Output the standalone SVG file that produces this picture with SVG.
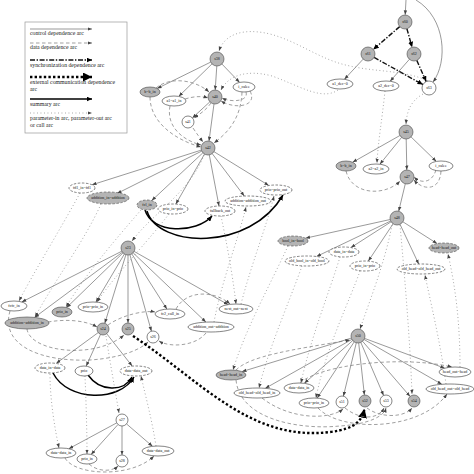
<svg xmlns="http://www.w3.org/2000/svg" width="474" height="474" viewBox="0 0 474 474">
<defs>
<style>
.ctl{fill:none;stroke:#555;stroke-width:0.6;marker-end:url(#ag)}
.dat{fill:none;stroke:#777;stroke-width:0.7;stroke-dasharray:3.5 2.5;marker-end:url(#ag)}
.par{fill:none;stroke:#888;stroke-width:0.8;stroke-dasharray:0.9 2.6;marker-end:url(#ag)}
.syn{fill:none;stroke:#111;stroke-width:1.4;stroke-dasharray:5 1.6 1.4 1.6;marker-end:url(#ab)}
.ext{fill:none;stroke:#000;stroke-width:2.4;stroke-dasharray:2.4 2.2;marker-end:url(#abig)}
.sum{fill:none;stroke:#000;stroke-width:1.5;marker-end:url(#ab)}
.gn{fill:#b4b4b4;stroke:#444;stroke-width:0.6}
.wn{fill:#fff;stroke:#333;stroke-width:0.6}
.dn{stroke-dasharray:2.5 1.5}
.t{font-family:"Liberation Serif",serif;font-size:4px;fill:#111;text-anchor:middle}
.lg{font-family:"Liberation Serif",serif;font-size:5.8px;fill:#222}
</style>
<marker id="ag" markerWidth="5" markerHeight="4" refX="4.5" refY="2" orient="auto" markerUnits="userSpaceOnUse"><path d="M0,0.3 L4.5,2 L0,3.7z" fill="#444"/></marker>
<marker id="ab" markerWidth="6" markerHeight="5" refX="5.5" refY="2.5" orient="auto" markerUnits="userSpaceOnUse"><path d="M0,0 L5.5,2.5 L0,5z" fill="#000"/></marker>
<marker id="abig" markerWidth="10" markerHeight="9" refX="9" refY="4.5" orient="auto" markerUnits="userSpaceOnUse"><path d="M0,0 L9,4.5 L0,9z" fill="#000"/></marker>
</defs>
<rect width="474" height="474" fill="#fff"/>

<g id="legend">
<rect x="25" y="22" width="102" height="111" fill="#fff" stroke="#999" stroke-width="0.7"/>
<line x1="30" y1="29" x2="92" y2="29" class="ctl"/>
<text x="30" y="35" class="lg">control  dependence  arc</text>
<line x1="30" y1="43" x2="92" y2="43" class="dat"/>
<text x="30" y="49" class="lg">data dependence arc</text>
<line x1="30" y1="60" x2="92" y2="60" class="syn"/>
<text x="30" y="67" class="lg">synchronization  dependence   arc</text>
<line x1="30" y1="77" x2="92" y2="77" class="ext"/>
<text x="30" y="84" class="lg">external  communication  dependence</text>
<text x="30" y="91" class="lg">arc</text>
<line x1="30" y1="99" x2="92" y2="99" class="sum"/>
<text x="30" y="106" class="lg">summary  arc</text>
<line x1="30" y1="113" x2="92" y2="113" class="par"/>
<text x="30" y="120" class="lg">parameter-in  arc,  parameter-out  arc</text>
<text x="30" y="127" class="lg">or  call  arc</text>
</g>

<g id="connectors">
<line x1="406" y1="0" x2="405.2" y2="14.8" class="ctl"/>
<path d="M416,0 C446,18 448,62 433,82" class="ctl"/>
<line x1="399.7" y1="26.6" x2="373.3" y2="49.4" class="syn"/>
<line x1="406.9" y1="28.7" x2="412.1" y2="47.3" class="syn"/>
<line x1="374.1" y1="57.4" x2="422.9" y2="84.6" class="syn"/>
<line x1="416.8" y1="60.4" x2="426.2" y2="81.6" class="syn"/>
<line x1="363.2" y1="59.1" x2="344.4" y2="79.3" class="ctl"/>
<line x1="409.4" y1="59.3" x2="390.1" y2="81.3" class="ctl"/>
<line x1="210.7" y1="62.1" x2="157.1" y2="88.5" class="ctl"/>
<line x1="212" y1="63.9" x2="178.7" y2="96.4" class="ctl"/>
<line x1="216.8" y1="66" x2="215.2" y2="90" class="ctl"/>
<line x1="221.9" y1="64" x2="239.6" y2="82.4" class="ctl"/>
<line x1="209.9" y1="101.8" x2="192.4" y2="117.9" class="ctl"/>
<line x1="214" y1="103.9" x2="209" y2="141.1" class="ctl"/>
<path d="M156,88 C170,76 196,80 209,92" class="dat"/>
<path d="M185,99 C195,96 202,96 208,98" class="dat"/>
<path d="M250,91 C258,106 236,110 221,101" class="dat"/>
<path d="M246,92 C249,101 232,103 222,98" class="dat"/>
<path d="M211,103 C206,110 200,114 194,118" class="dat"/>
<path d="M150,97 C150,122 175,140 201,147" class="dat"/>
<path d="M170,106 C166,126 182,140 201,145" class="dat"/>
<path d="M193,128 C197,134 200,138 203,142" class="dat"/>
<path d="M242,92 C241,120 226,134 214,143" class="dat"/>
<path d="M428,81 C405,70 375,72 350,66 C320,60 300,42 270,34 C245,28 225,33 219,51" class="par"/>
<path d="M338,90 C322,101 300,86 272,76 C246,69 228,76 221,90" class="par"/>
<path d="M385,91 C382,120 378,142 377,163" class="par"/>
<path d="M423,94 C411,101 407,110 406,124" class="par"/>
<line x1="201.3" y1="150.1" x2="92" y2="184.8" class="ctl"/>
<line x1="201.7" y1="151.1" x2="117" y2="193.5" class="ctl"/>
<line x1="202.9" y1="152.8" x2="151.7" y2="200.6" class="ctl"/>
<line x1="204.5" y1="154.1" x2="175.8" y2="204.1" class="ctl"/>
<line x1="209.3" y1="154.9" x2="219" y2="206" class="ctl"/>
<line x1="212.2" y1="153.6" x2="244.3" y2="196.1" class="ctl"/>
<line x1="214" y1="151.7" x2="268.8" y2="185.5" class="ctl"/>
<path d="M145,210 C152,234 196,234 212,216" class="sum"/>
<path d="M147,211 C158,248 250,252 283,195" class="sum"/>
<path d="M204,155 C190,192 152,214 132,241" class="par"/>
<path d="M80,193 C60,230 35,270 19,301" class="par"/>
<path d="M101,204 C85,240 55,280 35,317" class="par"/>
<path d="M141,210 C115,240 85,275 66,307" class="par"/>
<path d="M169,214 C145,245 115,275 97,302" class="par"/>
<path d="M214,322 C222,280 238,240 246,207" class="par"/>
<path d="M241,304 C252,262 266,228 274,196" class="par"/>
<path d="M221,216 C226,240 232,270 236,304" class="par"/>
<line x1="399.9" y1="135.5" x2="352.6" y2="162.3" class="ctl"/>
<line x1="401.6" y1="137.4" x2="379.9" y2="164.2" class="ctl"/>
<line x1="406.2" y1="139" x2="406.8" y2="170" class="ctl"/>
<line x1="411" y1="136.9" x2="436.3" y2="161.4" class="ctl"/>
<line x1="405.3" y1="183.8" x2="398.7" y2="211.2" class="ctl"/>
<path d="M346,171 C352,196 386,196 400,181" class="dat"/>
<path d="M441,171 C440,192 422,190 414,180" class="dat"/>
<path d="M436,170 C432,183 421,184 414,177" class="dat"/>
<line x1="390.2" y1="219.5" x2="305.5" y2="238.2" class="ctl"/>
<line x1="390.7" y1="221" x2="316.5" y2="256.5" class="ctl"/>
<line x1="391.1" y1="221.8" x2="350.9" y2="247.6" class="ctl"/>
<line x1="393.1" y1="223.8" x2="368.3" y2="261.1" class="ctl"/>
<line x1="400" y1="224.3" x2="418.7" y2="264" class="ctl"/>
<line x1="402.9" y1="221.8" x2="437.1" y2="243.6" class="ctl"/>
<path d="M392,225 C385,262 370,300 360,329" class="par"/>
<path d="M400,225 C405,280 410,340 412,394" class="par"/>
<path d="M288,246 C270,285 245,330 233,370" class="par"/>
<path d="M302,266 C290,300 268,350 259,388" class="par"/>
<path d="M340,257 C330,290 310,340 301,383" class="par"/>
<path d="M360,271 C350,300 325,350 316,398" class="par"/>
<path d="M446,384 C440,340 430,300 425,275" class="par"/>
<path d="M460,367 C460,320 455,285 448,254" class="par"/>
<line x1="121.8" y1="251.2" x2="21.8" y2="302" class="ctl"/>
<line x1="122.4" y1="252.2" x2="34.6" y2="317.4" class="ctl"/>
<line x1="123" y1="252.9" x2="66.6" y2="307.6" class="ctl"/>
<line x1="124.4" y1="254" x2="95.9" y2="302.1" class="ctl"/>
<line x1="125.9" y1="254.7" x2="104.8" y2="323.3" class="ctl"/>
<line x1="128" y1="255" x2="128" y2="323" class="ctl"/>
<line x1="129.9" y1="254.7" x2="151.4" y2="331.2" class="ctl"/>
<line x1="131.8" y1="253.9" x2="166.9" y2="309.1" class="ctl"/>
<line x1="133.1" y1="252.8" x2="205.9" y2="322.1" class="ctl"/>
<line x1="134.1" y1="251.4" x2="228.1" y2="304.6" class="ctl"/>
<path d="M48,322 C65,319 85,320 97,327" class="dat"/>
<path d="M108,325 C122,315 145,310 155,312" class="dat"/>
<path d="M10,311 C0,345 40,362 90,360 C120,358 140,350 148,342" class="dat"/>
<path d="M27,329 C30,352 95,360 124,335" class="dat"/>
<path d="M176,309 C186,290 214,290 230,304" class="dat"/>
<path d="M206,333 C196,346 170,348 159,341" class="dat"/>
<path d="M133,336 C200,380 250,442 330,432 C356,429 362,420 364.5,409" class="ext"/>
<line x1="98.2" y1="332.6" x2="56.2" y2="363.4" class="ctl"/>
<line x1="100.5" y1="334.5" x2="86.2" y2="366.1" class="ctl"/>
<line x1="106.7" y1="333.7" x2="132.2" y2="366.1" class="ctl"/>
<path d="M53,373 C68,402 120,402 134,377" class="sum"/>
<path d="M88,375 C100,392 124,392 132,377" class="sum"/>
<path d="M106,336 C110,362 115,390 119,413" class="par"/>
<path d="M50,374 C50,400 55,430 59,448" class="par"/>
<path d="M85,376 C86,400 87,430 87,454" class="par"/>
<path d="M156,446 C152,420 146,398 141,376" class="par"/>
<line x1="116.7" y1="422.9" x2="68.9" y2="448.7" class="ctl"/>
<line x1="118" y1="424.5" x2="91.1" y2="454.4" class="ctl"/>
<line x1="122" y1="426" x2="122" y2="455" class="ctl"/>
<line x1="126.5" y1="423.9" x2="152.5" y2="446.3" class="ctl"/>
<path d="M65,458 C75,476 132,478 154,456" class="dat"/>
<path d="M89,464 C98,472 112,472 118,466" class="dat"/>
<line x1="351.3" y1="338.1" x2="242" y2="371.6" class="ctl"/>
<line x1="351.9" y1="339.4" x2="265.3" y2="388.3" class="ctl"/>
<line x1="352.7" y1="340.6" x2="304.3" y2="383.3" class="ctl"/>
<line x1="354.2" y1="341.9" x2="317.2" y2="398.1" class="ctl"/>
<line x1="356.3" y1="342.8" x2="343.4" y2="396.2" class="ctl"/>
<line x1="358.7" y1="343" x2="364.4" y2="395" class="ctl"/>
<line x1="360.8" y1="342.4" x2="383.6" y2="395.5" class="ctl"/>
<line x1="362.6" y1="341.3" x2="410.1" y2="396.5" class="ctl"/>
<line x1="364.1" y1="339.5" x2="441.8" y2="384.3" class="ctl"/>
<line x1="364.6" y1="338.4" x2="444.7" y2="368.2" class="ctl"/>
<path d="M236,380 C240,420 300,430 340,426 C370,424 384,416 386,408" class="dat"/>
<path d="M262,398 C290,420 330,420 343,409" class="dat"/>
<path d="M236,370 C250,356 290,350 350,340" class="dat"/>
<path d="M300,383 C320,365 400,355 452,367" class="dat"/>
<path d="M318,408 C340,432 420,432 447,394" class="dat"/>
<path d="M345,408 C360,420 378,420 384,408" class="dat"/>
<path d="M367,408 C380,418 404,418 412,408" class="dat"/>
</g>

<g id="n_top"><circle cx="405" cy="22" r="7" class="gn"/><text x="405" y="23.4" class="t">s60</text></g>
<g id="n_s61"><circle cx="368" cy="54" r="7" class="gn"/><text x="368" y="55.4" class="t">s61</text></g>
<g id="n_s62"><circle cx="414" cy="54" r="7" class="gn"/><text x="414" y="55.4" class="t">s62</text></g>
<g id="n_s63"><circle cx="429" cy="88" r="7" class="wn"/><text x="429" y="89.4" class="t">s63</text></g>
<g id="n_a1dec"><ellipse cx="340" cy="84" rx="13" ry="5" class="wn"/><text x="340" y="85.4" class="t">a1_dec=0</text></g>
<g id="n_a2dec"><ellipse cx="386" cy="86" rx="13" ry="5" class="wn"/><text x="386" y="87.4" class="t">a2_dec=0</text></g>

<g id="n_s38"><circle cx="217" cy="59" r="7" class="gn"/><text x="217" y="60.4" class="t">s38</text></g>
<g id="n_bin1"><ellipse cx="150" cy="92" rx="10" ry="5" class="gn"/><text x="150" y="93.4" class="t">b=b_in</text></g>
<g id="n_a1in"><ellipse cx="174" cy="101" rx="12" ry="5" class="wn"/><text x="174" y="102.4" class="t">a1=a1_in</text></g>
<g id="n_s40"><circle cx="215" cy="97" r="7" class="gn"/><text x="215" y="98.4" class="t">s40</text></g>
<g id="n_ical1"><ellipse cx="244" cy="87" rx="11" ry="5" class="wn"/><text x="244" y="88.4" class="t">i_calee</text></g>
<g id="n_s41"><circle cx="188" cy="122" r="6" class="wn"/><text x="188" y="123.4" class="t">s41</text></g>
<g id="n_s42"><circle cx="208" cy="148" r="7" class="gn"/><text x="208" y="149.4" class="t">s42</text></g>

<g id="n_fd1"><ellipse cx="82" cy="188" rx="13" ry="5" class="wn dn"/><text x="82" y="189.4" class="t">fd1_in=fd1</text></g>
<g id="n_addin"><ellipse cx="108" cy="198" rx="21" ry="6" class="gn dn"/><text x="108" y="199.4" class="t">addition_in=addition</text></g>
<g id="n_fcl"><ellipse cx="147" cy="205" rx="10" ry="5" class="gn dn"/><text x="147" y="206.4" class="t">fcl_in</text></g>
<g id="n_prioin1"><ellipse cx="173" cy="209" rx="15" ry="5" class="wn dn"/><text x="173" y="210.4" class="t">prio_in=prio</text></g>
<g id="n_fallback"><ellipse cx="220" cy="211" rx="15" ry="5" class="wn dn"/><text x="220" y="212.4" class="t">fallback_out</text></g>
<g id="n_addout1"><ellipse cx="248" cy="201" rx="23" ry="5" class="wn dn"/><text x="248" y="202.4" class="t">addition=addition_out</text></g>
<g id="n_prioout1"><ellipse cx="276" cy="190" rx="16" ry="5" class="wn dn"/><text x="276" y="191.4" class="t">prio=prio_out</text></g>

<g id="n_s45"><circle cx="406" cy="132" r="7" class="gn"/><text x="406" y="133.4" class="t">s45</text></g>
<g id="n_bin2"><ellipse cx="346" cy="166" rx="10" ry="5" class="gn"/><text x="346" y="167.4" class="t">b=b_in</text></g>
<g id="n_a2in"><ellipse cx="376" cy="169" rx="13" ry="5" class="wn"/><text x="376" y="170.4" class="t">a2=a2_in</text></g>
<g id="n_s47"><circle cx="407" cy="177" r="7" class="gn"/><text x="407" y="178.4" class="t">s47</text></g>
<g id="n_ical2"><ellipse cx="441" cy="166" rx="12" ry="5" class="wn"/><text x="441" y="167.4" class="t">i_calee</text></g>
<g id="n_s48"><circle cx="397" cy="218" r="7" class="gn"/><text x="397" y="219.4" class="t">s48</text></g>

<g id="n_boolin"><ellipse cx="293" cy="241" rx="15" ry="5" class="gn dn"/><text x="293" y="242.4" class="t">bool_in=bool</text></g>
<g id="n_oldbool"><ellipse cx="307" cy="261" rx="22" ry="5" class="wn dn"/><text x="307" y="262.4" class="t">old_bool_in=old_bool</text></g>
<g id="n_datain2"><ellipse cx="344" cy="252" rx="15" ry="5" class="wn dn"/><text x="344" y="253.4" class="t">data_in=data</text></g>
<g id="n_prioin3"><ellipse cx="365" cy="266" rx="15" ry="5" class="wn dn"/><text x="365" y="267.4" class="t">prio_in=prio</text></g>
<g id="n_oldheadout"><ellipse cx="421" cy="269" rx="24" ry="5" class="wn dn"/><text x="421" y="270.4" class="t">old_head=old_head_out</text></g>
<g id="n_headout"><ellipse cx="444" cy="248" rx="15" ry="5" class="gn dn"/><text x="444" y="249.4" class="t">head=head_out</text></g>

<g id="n_s23"><circle cx="128" cy="248" r="7" class="gn"/><text x="128" y="249.4" class="t">s23</text></g>
<g id="n_fcfc"><ellipse cx="14" cy="306" rx="13" ry="5" class="wn"/><text x="14" y="307.4" class="t">fcfc_in</text></g>
<g id="n_addin2"><ellipse cx="27" cy="323" rx="22" ry="6" class="gn"/><text x="27" y="324.4" class="t">addition=addition_in</text></g>
<g id="n_prioin2"><ellipse cx="62" cy="312" rx="10" ry="5" class="gn"/><text x="62" y="313.4" class="t">prio_in</text></g>
<g id="n_prioprio"><ellipse cx="93" cy="307" rx="15" ry="5" class="wn"/><text x="93" y="308.4" class="t">prio=prio_in</text></g>
<g id="n_s24"><circle cx="103" cy="329" r="6" class="gn"/><text x="103" y="330.4" class="t">s24</text></g>
<g id="n_s25"><circle cx="128" cy="329" r="6" class="gn"/><text x="128" y="330.4" class="t">s25</text></g>
<g id="n_s26"><circle cx="153" cy="337" r="6" class="wn"/><text x="153" y="338.4" class="t">s26</text></g>
<g id="n_fc2"><ellipse cx="170" cy="314" rx="15" ry="5" class="wn"/><text x="170" y="315.4" class="t">fc2_call_in</text></g>
<g id="n_addout2"><ellipse cx="211" cy="327" rx="23" ry="5" class="wn"/><text x="211" y="328.4" class="t">addition_out=addition</text></g>
<g id="n_nextout"><ellipse cx="236" cy="309" rx="17" ry="5" class="wn"/><text x="236" y="310.4" class="t">next_out=next</text></g>

<g id="n_datain1"><ellipse cx="50" cy="368" rx="15" ry="5" class="wn dn"/><text x="50" y="369.4" class="t">data_in=data</text></g>
<g id="n_prio"><ellipse cx="84" cy="371" rx="9" ry="5" class="wn"/><text x="84" y="372.4" class="t">prio</text></g>
<g id="n_dataout1"><ellipse cx="136" cy="371" rx="16" ry="5" class="wn dn"/><text x="136" y="372.4" class="t">data=data_out</text></g>
<g id="n_s27"><circle cx="122" cy="420" r="6" class="wn"/><text x="122" y="421.4" class="t">s27</text></g>
<g id="n_datadatain"><ellipse cx="61" cy="453" rx="15" ry="5" class="wn"/><text x="61" y="454.4" class="t">data=data_in</text></g>
<g id="n_prioin4"><ellipse cx="87" cy="459" rx="10" ry="5" class="wn"/><text x="87" y="460.4" class="t">prio_in</text></g>
<g id="n_s28"><circle cx="122" cy="461" r="6" class="wn"/><text x="122" y="462.4" class="t">s28</text></g>
<g id="n_dataout2"><ellipse cx="158" cy="451" rx="16" ry="5" class="wn"/><text x="158" y="452.4" class="t">data=data_out</text></g>

<g id="n_s50"><circle cx="358" cy="336" r="7" class="gn"/><text x="358" y="337.4" class="t">s50</text></g>
<g id="n_headin"><ellipse cx="231" cy="375" rx="15" ry="5" class="gn"/><text x="231" y="376.4" class="t">head=head_in</text></g>
<g id="n_oldheadin"><ellipse cx="257" cy="393" rx="23" ry="5" class="wn"/><text x="257" y="394.4" class="t">old_head=old_head_in</text></g>
<g id="n_datain3"><ellipse cx="299" cy="388" rx="15" ry="5" class="wn"/><text x="299" y="389.4" class="t">data=data_in</text></g>
<g id="n_prioin5"><ellipse cx="314" cy="403" rx="15" ry="5" class="wn"/><text x="314" y="404.4" class="t">prio=prio_in</text></g>
<g id="n_s51"><circle cx="342" cy="402" r="6" class="wn"/><text x="342" y="403.4" class="t">s51</text></g>
<g id="n_s52"><circle cx="365" cy="401" r="6" class="gn"/><text x="365" y="402.4" class="t">s52</text></g>
<g id="n_s53"><circle cx="386" cy="401" r="6" class="wn"/><text x="386" y="402.4" class="t">s53</text></g>
<g id="n_s54"><circle cx="414" cy="401" r="6" class="gn"/><text x="414" y="402.4" class="t">s54</text></g>
<g id="n_oldheadout2"><ellipse cx="450" cy="389" rx="24" ry="5" class="wn"/><text x="450" y="390.4" class="t">old_head_out=old_head</text></g>
<g id="n_headout2"><ellipse cx="455" cy="372" rx="16" ry="5" class="wn"/><text x="455" y="373.4" class="t">head_out=head</text></g>
</svg>
